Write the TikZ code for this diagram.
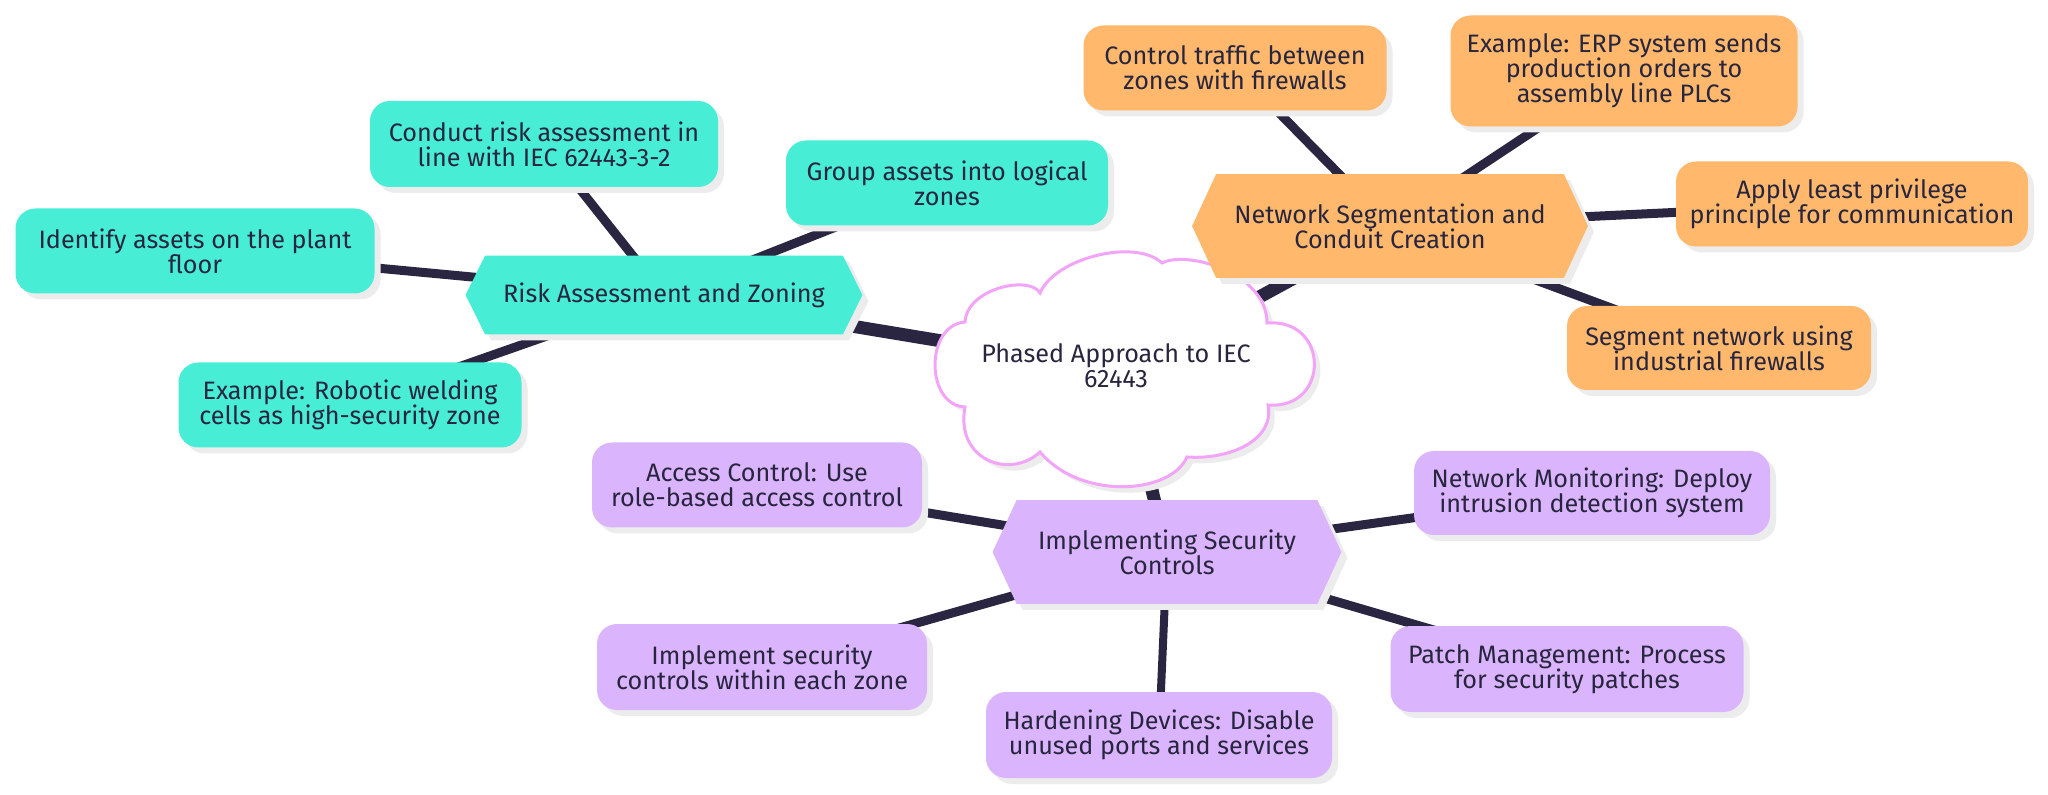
\documentclass[tikz,border=0pt]{standalone}
\usepackage{fontspec}
\setmainfont{Fira Sans}
\usetikzlibrary{shadows}
\pgfdeclarelayer{bg}\pgfdeclarelayer{edges}\pgfdeclarelayer{shapes}
\pgfsetlayers{bg,edges,shapes,main}
\definecolor{tealc}{RGB}{72,237,214}
\definecolor{orangec}{RGB}{255,184,108}
\definecolor{purplec}{RGB}{218,180,253}
\definecolor{edgec}{RGB}{42,37,64}
\definecolor{textc}{RGB}{40,38,62}
\definecolor{shadowc}{RGB}{236,236,236}
\definecolor{pinkc}{RGB}{242,164,248}
\newcommand\hexfill[3]{%
  \fill[shadowc, transform canvas={shift={(3pt,-3pt)}}] (#1.west) -- ([xshift=#2]#1.north west) -- ([xshift=-#2]#1.north east) -- (#1.east) -- ([xshift=-#2]#1.south east) -- ([xshift=#2]#1.south west) -- cycle;
  \fill[#3] (#1.west) -- ([xshift=#2]#1.north west) -- ([xshift=-#2]#1.north east) -- (#1.east) -- ([xshift=-#2]#1.south east) -- ([xshift=#2]#1.south west) -- cycle;
}
\tikzset{
  txt/.style={align=center, text=textc, font=\fontsize{12.6}{12.6}\selectfont, inner sep=0pt},
  leaf/.style={txt, rounded corners=10pt, drop shadow={shadow xshift=3pt, shadow yshift=-3pt, fill=shadowc, opacity=1}},
  tleaf/.style={leaf, fill=tealc},
  oleaf/.style={leaf, fill=orangec},
  pleaf/.style={leaf, fill=purplec},
  hexnode/.style={txt},
  rootedge/.style={line width=6.5pt, draw=edgec},
  leafedge/.style={line width=4.5pt, draw=edgec},
}
\begin{document}
\begin{tikzpicture}[x=0.5pt, y=-0.5pt]
\path[use as bounding box] (0,0) rectangle (2048,795);
\begin{pgfonlayer}{bg}
\fill[white] (0,0) rectangle (2048,795);
\end{pgfonlayer}

% root cloud
\coordinate (rootc) at (1123,371);
\begin{pgfonlayer}{shapes}
\fill[shadowc, transform canvas={shift={(3pt,-3pt)}}]
  (965,322) .. controls (967,288) and (1030,275) .. (1040,293)
  .. controls (1055,258) and (1135,238) .. (1162,263)
  .. controls (1187,250) and (1267,273) .. (1267,323)
  .. controls (1330,318) and (1330,410) .. (1268,405)
  .. controls (1275,440) and (1230,460) .. (1187,457)
  .. controls (1170,495) and (1080,500) .. (1040,452)
  .. controls (1010,480) and (955,460) .. (965,407)
  .. controls (925,405) and (925,325) .. (965,322) -- cycle;
\filldraw[fill=white, draw=pinkc, line width=1.5pt]
  (965,322) .. controls (967,288) and (1030,275) .. (1040,293)
  .. controls (1055,258) and (1135,238) .. (1162,263)
  .. controls (1187,250) and (1267,273) .. (1267,323)
  .. controls (1330,318) and (1330,410) .. (1268,405)
  .. controls (1275,440) and (1230,460) .. (1187,457)
  .. controls (1170,495) and (1080,500) .. (1040,452)
  .. controls (1010,480) and (955,460) .. (965,407)
  .. controls (925,405) and (925,325) .. (965,322) -- cycle;
\end{pgfonlayer}
\node[txt] (root) at (1116,366) {Phased Approach to IEC\\62443};

% hexagon nodes
\node[hexnode, minimum width=198pt, minimum height=39pt] (riskhex) at (664,295) {Risk Assessment and Zoning};
\node[hexnode, minimum width=197.5pt, minimum height=51.5pt] (nethex) at (1390,226) {Network Segmentation and\\Conduit Creation};
\node[hexnode, minimum width=174pt, minimum height=51.5pt] (implhex) at (1167,552) {Implementing Security\\Controls};
\begin{pgfonlayer}{shapes}
\hexfill{riskhex}{9.75pt}{tealc}
\hexfill{nethex}{12pt}{orangec}
\hexfill{implhex}{12pt}{purplec}
\end{pgfonlayer}

% teal leaves
\node[tleaf, minimum width=174pt, minimum height=43pt] (crisk) at (544,144) {Conduct risk assessment in\\line with IEC 62443-3-2};
\node[tleaf, minimum width=161pt, minimum height=42.5pt] (group) at (947,183) {Group assets into logical\\zones};
\node[tleaf, minimum width=179.5pt, minimum height=42.5pt] (ident) at (195,251) {Identify assets on the plant\\floor};
\node[tleaf, minimum width=171.5pt, minimum height=42.5pt] (robot) at (350,405) {Example: Robotic welding\\cells as high-security zone};

% orange leaves
\node[oleaf, minimum width=151.5pt, minimum height=42.5pt] (ctrl) at (1235,68) {Control traffic between\\zones with firewalls};
\node[oleaf, minimum width=173.5pt, minimum height=55.5pt] (erp) at (1624,71) {Example: ERP system sends\\production orders to\\assembly line PLCs};
\node[oleaf, minimum width=176pt, minimum height=42.5pt] (least) at (1852,204) {Apply least privilege\\principle for communication};
\node[oleaf, minimum width=152pt, minimum height=42pt] (segment) at (1719,348) {Segment network using\\industrial firewalls};

% purple leaves
\node[pleaf, minimum width=165pt, minimum height=42.5pt] (access) at (757,485) {Access Control: Use\\role-based access control};
\node[pleaf, minimum width=178pt, minimum height=42pt] (monitor) at (1592,493) {Network Monitoring: Deploy\\intrusion detection system};
\node[pleaf, minimum width=165pt, minimum height=43pt] (within) at (762,667) {Implement security\\controls within each zone};
\node[pleaf, minimum width=176.5pt, minimum height=43pt] (patch) at (1567,669) {Patch Management: Process\\for security patches};
\node[pleaf, minimum width=173pt, minimum height=43pt] (harden) at (1159,735) {Hardening Devices: Disable\\unused ports and services};

% edges
\begin{pgfonlayer}{edges}
\draw[rootedge] (rootc) -- (riskhex.center);
\draw[rootedge] (rootc) -- (nethex.center);
\draw[rootedge] (rootc) -- (implhex.center);
\draw[leafedge] (riskhex.center) -- (crisk.center);
\draw[leafedge] (riskhex.center) -- (group.center);
\draw[leafedge] (riskhex.center) -- (ident.center);
\draw[leafedge] (riskhex.center) -- (robot.center);
\draw[leafedge] (nethex.center) -- (ctrl.center);
\draw[leafedge] (nethex.center) -- (erp.center);
\draw[leafedge] (nethex.center) -- (least.center);
\draw[leafedge] (nethex.center) -- (segment.center);
\draw[leafedge] (implhex.center) -- (access.center);
\draw[leafedge] (implhex.center) -- (monitor.center);
\draw[leafedge] (implhex.center) -- (within.center);
\draw[leafedge] (implhex.center) -- (patch.center);
\draw[leafedge, line width=4pt] (implhex.center) -- (harden.center);
\end{pgfonlayer}
\end{tikzpicture}
\end{document}
